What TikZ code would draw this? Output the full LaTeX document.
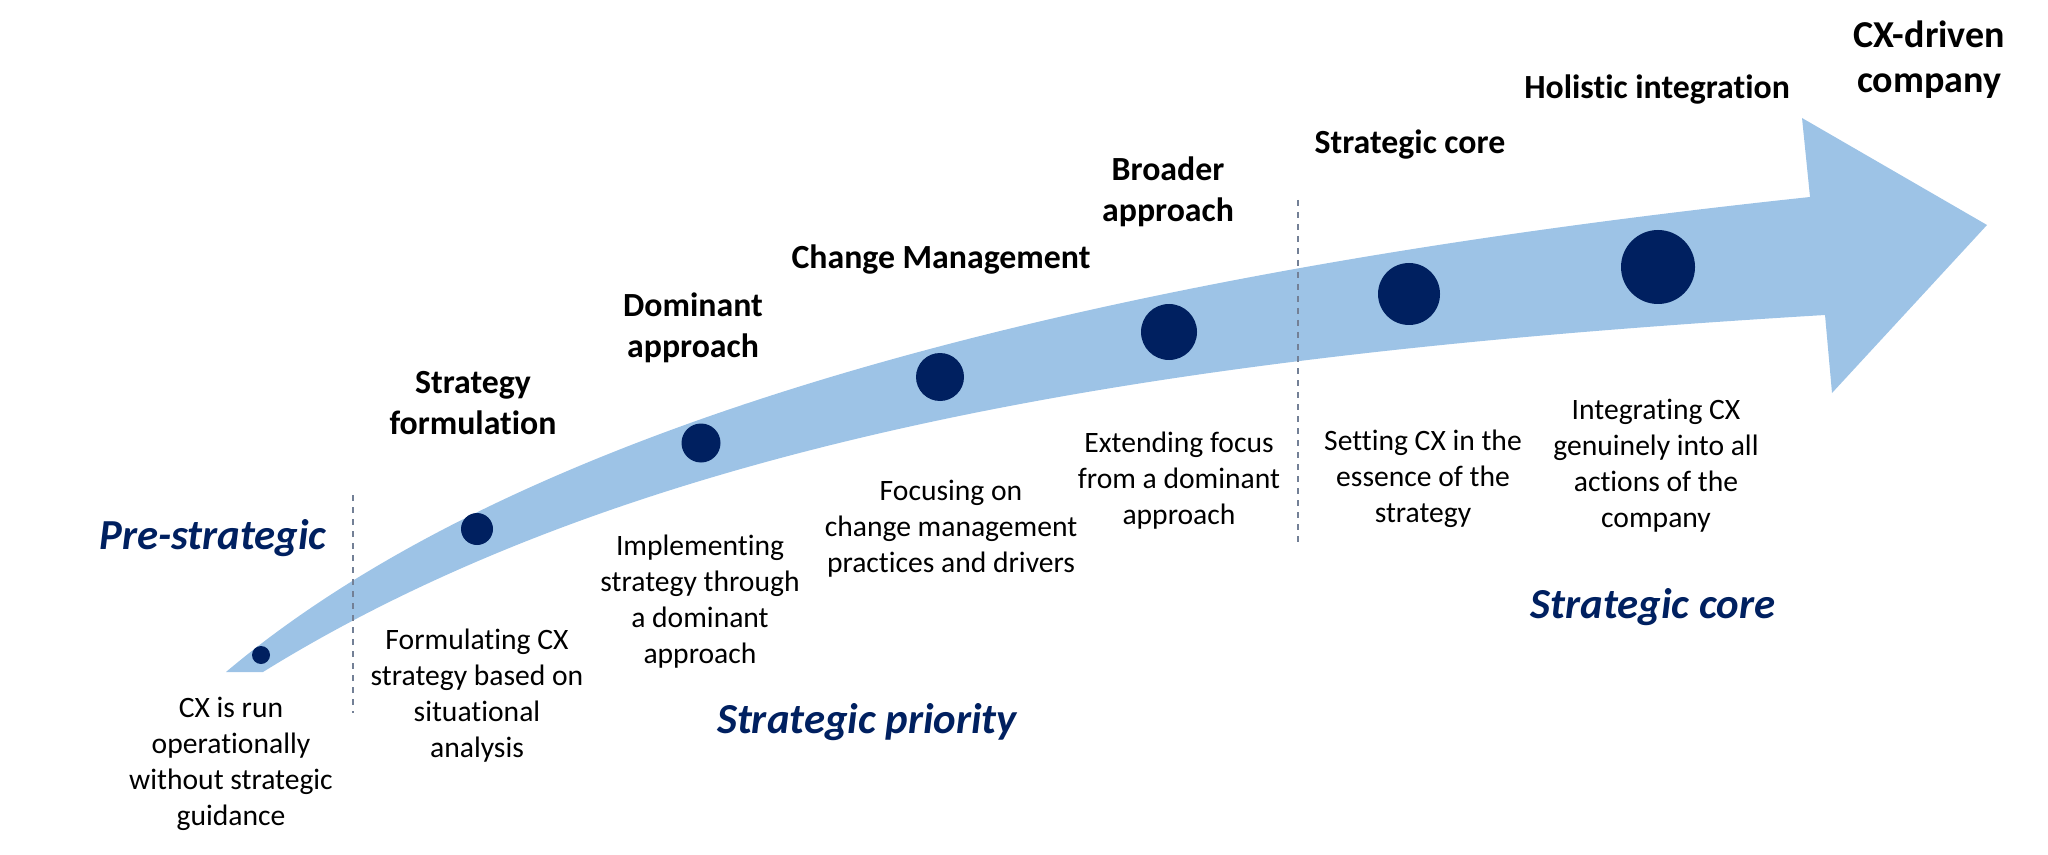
\documentclass[tikz,border=0pt]{standalone}
\usepackage{fontspec}
\setmainfont{Carlito}[Ligatures=NoCommon]
\definecolor{band}{RGB}{157,195,230}
\definecolor{navy}{RGB}{0,32,96}
\definecolor{divider}{RGB}{115,128,150}

\begin{document}
\begin{tikzpicture}[x=0.5pt, y=-0.5pt,
    stage/.style={font=\fontsize{16.9}{20.5}\selectfont\bfseries, align=center, inner sep=0pt},
    descr/.style={font=\fontsize{14.8}{18}\selectfont, align=center, inner sep=0pt},
    phase/.style={font=\fontsize{21.4}{25}\selectfont\bfseries\itshape, text=navy, inner sep=0pt},
    milestone/.style={circle, fill=navy, inner sep=0pt, minimum size=#1}]

    \useasboundingbox (0,0) rectangle (2048,855);

    % curved arrow
    \fill[band] (226,672) .. controls (560,390) and (1200,262) .. (1810,197)
        -- (1802,118) -- (1987,225) -- (1832,393) -- (1825,315)
        .. controls (1225,351) and (663,424) .. (263,672) -- cycle;

    \draw[divider, dashed, line width=0.6pt] (353,495) -- (353,713);
    \draw[divider, dashed, line width=0.6pt] (1298,200) -- (1298,547);

    \node[milestone=9pt]  (m1) at (261,655) {};
    \node[milestone=16pt] (m2) at (477,529) {};
    \node[milestone=19.5pt] (m3) at (701,443) {};
    \node[milestone=24pt] (m4) at (940,377) {};
    \node[milestone=28pt] (m5) at (1169,332) {};
    \node[milestone=31pt] (m6) at (1409,294) {};
    \node[milestone=37pt] (m7) at (1658,267) {};

    \node[stage] (formulation) at (473,403) {Strategy\\formulation};
    \node[stage] (dominant) at (693,328) {Dominant\\approach};
    \node[stage] (change) at (941,260) {Change Management};
    \node[stage] (broader) at (1168,192) {Broader\\approach};
    \node[stage] (core) at (1410,145) {Strategic core};
    \node[stage] (holistic) at (1657,90) {Holistic integration};
    \node[stage, font=\fontsize{19}{22.5}\selectfont\bfseries] (driven) at (1929,60) {CX-driven\\company};

    \node[descr] (d1) at (231,764) {CX is run\\operationally\\without strategic\\guidance};
    \node[descr] (d2) at (477,696) {Formulating CX\\strategy based on\\situational\\analysis};
    \node[descr] (d3) at (700,602) {Implementing\\strategy through\\a dominant\\approach};
    \node[descr] (d4) at (951,529) {Focusing on\\change management\\practices and drivers};
    \node[descr] (d5) at (1179,481) {Extending focus\\from a dominant\\approach};
    \node[descr] (d6) at (1423,479) {Setting CX in the\\essence of the\\strategy};
    \node[descr] (d7) at (1656,466) {Integrating CX\\genuinely into all\\actions of the\\company};

    \node[phase] (pre) at (213,538) {Pre-strategic};
    \node[phase] (priority) at (867,722) {Strategic priority};
    \node[phase] (corephase) at (1653,607) {Strategic core};

\end{tikzpicture}
\end{document}
